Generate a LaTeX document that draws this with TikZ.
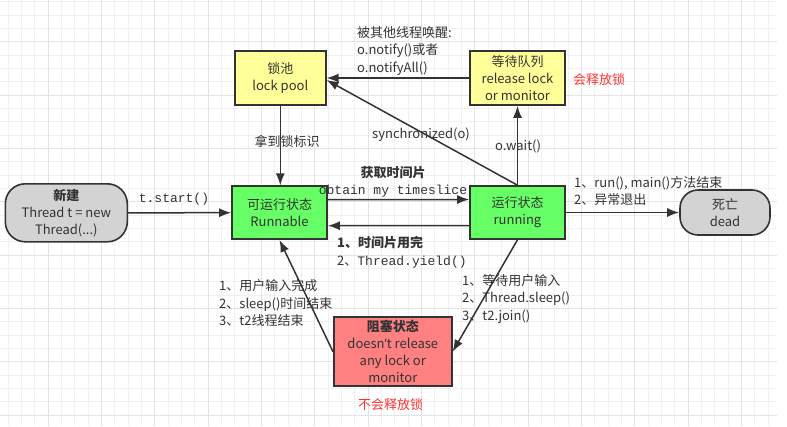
\documentclass[tikz,border=0pt]{standalone}
\usepackage{fontspec}
\setmainfont{Noto Sans CJK SC}
\newfontfamily\codefont{Liberation Mono}
\newfontfamily\latinfont{Noto Sans}
\usetikzlibrary{arrows.meta}
\definecolor{lockyellow}{HTML}{FFFF99}
\definecolor{rungreen}{HTML}{66FF66}
\definecolor{blockred}{HTML}{FF8080}
\definecolor{endgray}{HTML}{D3D3D3}
\definecolor{ink}{HTML}{333333}
\definecolor{warnred}{HTML}{FF3333}

\begin{document}
\begin{tikzpicture}[x=1pt,y=-1pt,
  gridminor/.style={draw=black!6, line width=1pt},
  gridmajor/.style={draw=black!11, line width=1pt},
  state/.style={draw=ink, line width=1.6pt, minimum width=95pt, minimum height=54pt,
    align=center, inner sep=2pt, text=ink, font=\fontsize{13}{17}\selectfont},
  conn/.style={draw=ink, line width=1.5pt, -{Latex[length=12pt,width=9pt]}},
  lbl/.style={text=ink, inner sep=1pt, font=\fontsize{13}{17.5}\selectfont},
  code/.style={text=ink, inner sep=1pt, font=\fontsize{13}{17}\codefont},
  warn/.style={text=warnred, inner sep=1pt, font=\fontsize{13}{17}\selectfont}]

\useasboundingbox (0,0) rectangle (787,426);

% background grid
\foreach \i in {0,...,57}
  \draw[gridminor] (8.3+13.333*\i,0) -- (8.3+13.333*\i,426);
\foreach \j in {0,...,31}
  \draw[gridminor] (0,1.7+13.333*\j) -- (777,1.7+13.333*\j);
\foreach \i in {3,7,...,55}
  \draw[gridmajor] (8.3+13.333*\i,0) -- (8.3+13.333*\i,426);
\foreach \j in {3,7,...,31}
  \draw[gridmajor] (0,1.7+13.333*\j) -- (777,1.7+13.333*\j);

% states
\node[state, fill=endgray, rounded corners=20pt, minimum width=122pt, minimum height=58pt] (newt) at (66.3,212.8) {\bfseries 新建\\Thread t = new\\Thread(...)};
\node[state, fill=lockyellow, minimum width=91pt] (lockpool) at (280.3,78) {锁池\\lock pool};
\node[state, fill=lockyellow] (waitq) at (517.5,78) {等待队列\\release lock\\or monitor};
\node[state, fill=rungreen, minimum height=53pt] (runnable) at (279.5,212.7) {可运行状态\\Runnable};
\node[state, fill=rungreen, minimum height=53pt] (running) at (517.5,212.5) {运行状态\\running};
\node[state, fill=endgray, rounded corners=18pt, minimum width=90pt, minimum height=45pt] (dead) at (725,212.5) {死亡\\dead};
\node[state, fill=blockred, minimum width=118pt, minimum height=69pt] (blocked) at (392.8,351.7) {\bfseries 阻塞状态\\doesn{\latinfont ’}t release\\any lock or\\monitor};

% transitions
\draw[conn] (newt.east) -- (runnable.west);
\draw[conn] (lockpool.south) -- (lockpool.south |- runnable.north);
\draw[conn] (waitq.west) -- (lockpool.east);
\draw[conn] (running.north) -- (waitq.south);
\draw[conn] (running.north) -- ([yshift=-2pt]lockpool.east);
\draw[conn] ([yshift=13pt]runnable.east) -- ([yshift=13pt]running.west);
\draw[conn] ([yshift=-13pt]running.west) -- ([yshift=-13pt]runnable.east);
\draw[conn] (running.east) -- (dead.west);
\draw[conn] (running.south) -- (blocked.east);
\draw[conn] (blocked.west) -- (runnable.south);

% labels
\node[code] (startlbl) at (174,199) {t.start()};
\node[lbl] (locklbl) at (287,141.7) {拿到锁标识};
\node[lbl, anchor=west, align=left] (notifylbl) at (356,51) {被其他线程唤醒:\\o.notify()或者\\o.notifyAll()};
\node[warn] (releaselbl) at (599,80) {会释放锁};
\node[lbl] (synclbl) at (421,135) {synchronized(o)};
\node[lbl] (waitlbl) at (518,146.7) {o.wait()};
\node[lbl, align=center] (slicelbl) at (393,181.7) {\bfseries 获取时间片\\{\codefont obtain my timeslice}};
\node[lbl, anchor=west, align=left] (yieldlbl) at (336,252) {\bfseries 1、时间片用完\\2、{\codefont Thread.yield()}};
\node[lbl, anchor=west, align=left] (deadlbl) at (573,191) {1、run(), main()方法结束\\2、异常退出};
\node[lbl, anchor=west, align=left] (sleeplbl) at (461,299) {1、等待用户输入\\2、Thread.sleep()\\3、t2.join()};
\node[lbl, anchor=west, align=left] (wakelbl) at (218,303.3) {1、用户输入完成\\2、sleep()时间结束\\3、t2线程结束};
\node[warn] (keeplbl) at (390.7,404.3) {不会释放锁};

\end{tikzpicture}
\end{document}
